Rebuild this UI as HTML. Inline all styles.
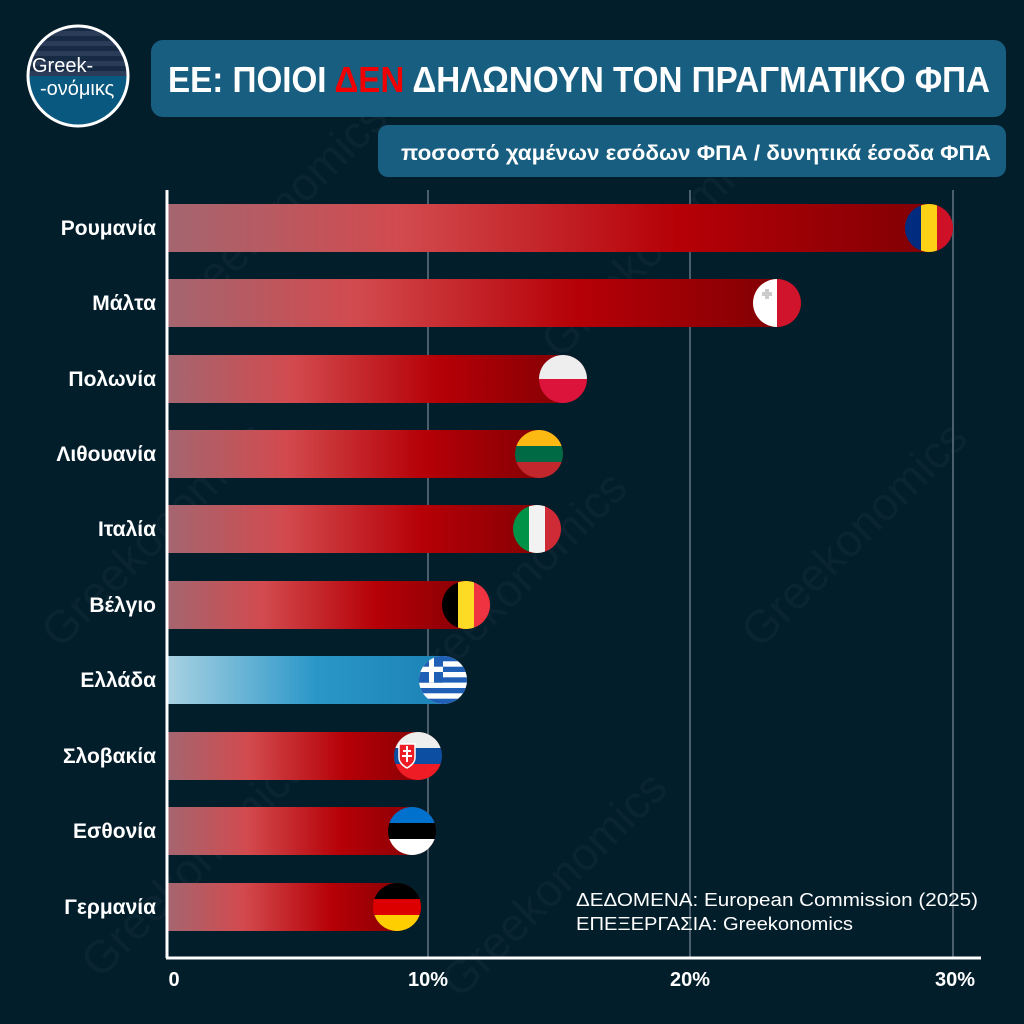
<!DOCTYPE html>
<html><head><meta charset="utf-8"><style>
body{margin:0;background:#031e2b;}
svg{display:block;font-family:"Liberation Sans","DejaVu Sans",sans-serif;}
</style></head><body>
<svg width="1024" height="1024" viewBox="0 0 1024 1024" xmlns="http://www.w3.org/2000/svg">
<defs>
<linearGradient id="rg" x1="0" y1="0" x2="1" y2="0">
<stop offset="0" stop-color="#a46670"/><stop offset="0.3" stop-color="#d24a4e"/><stop offset="0.65" stop-color="#b50006"/><stop offset="1" stop-color="#7c0004"/>
</linearGradient>
<linearGradient id="bg" x1="0" y1="0" x2="1" y2="0">
<stop offset="0" stop-color="#a9d2e2"/><stop offset="0.5" stop-color="#2a96c8"/><stop offset="1" stop-color="#1a7fb2"/>
</linearGradient>
<clipPath id="c"><circle cx="0" cy="0" r="24"/></clipPath>
<clipPath id="lc"><circle cx="78" cy="76" r="50"/></clipPath>
</defs>
<rect width="1024" height="1024" fill="#031e2b"/>
<g font-size="46" fill-opacity="0.03" fill="#fff">
<text x="60" y="650" transform="rotate(-45 60 650)">Greekonomics</text>
<text x="420" y="700" transform="rotate(-45 420 700)">Greekonomics</text>
<text x="760" y="650" transform="rotate(-45 760 650)">Greekonomics</text>
<text x="100" y="980" transform="rotate(-45 100 980)">Greekonomics</text>
<text x="460" y="1000" transform="rotate(-45 460 1000)">Greekonomics</text>
<text x="180" y="330" transform="rotate(-45 180 330)">Greekonomics</text>
<text x="560" y="360" transform="rotate(-45 560 360)">Greekonomics</text>
</g>
<g clip-path="url(#lc)">
<rect x="28" y="26" width="100" height="50" fill="#162a44"/>
<g fill="#2a3c58"><rect x="28" y="31" width="100" height="5"/><rect x="28" y="41" width="100" height="5"/><rect x="28" y="51" width="100" height="5"/><rect x="28" y="61" width="100" height="5"/><rect x="28" y="71" width="100" height="5"/></g>
<rect x="28" y="76" width="100" height="50" fill="#08587f"/>
</g>
<circle cx="78" cy="76" r="50" fill="none" stroke="#fff" stroke-width="3"/>
<text x="32" y="72" font-size="20" fill="#fff">Greek-</text>
<text x="40" y="95" font-size="20" fill="#fff">-ονόμικς</text>
<rect x="151" y="40" width="855" height="77" rx="12" fill="#175e80"/>
<text x="168" y="92" font-size="36" font-weight="bold" fill="#fff" textLength="822" lengthAdjust="spacingAndGlyphs">ΕΕ: ΠΟΙΟΙ <tspan fill="#f00000">ΔΕΝ</tspan> ΔΗΛΩΝΟΥΝ ΤΟΝ ΠΡΑΓΜΑΤΙΚΟ ΦΠΑ</text>
<rect x="378" y="125" width="628" height="52" rx="10" fill="#175e80"/>
<text x="401" y="160" font-size="21" font-weight="bold" fill="#fff" textLength="590" lengthAdjust="spacingAndGlyphs">ποσοστό χαμένων εσόδων ΦΠΑ / δυνητικά έσοδα ΦΠΑ</text>
<g stroke="#4c5f6c" stroke-width="2"><line x1="428" y1="190" x2="428" y2="958"/><line x1="690" y1="190" x2="690" y2="958"/><line x1="953" y1="190" x2="953" y2="958"/></g>
<g fill="url(#rg)">
<path d="M167,204H929A24,24 0 0 1 929,252H167Z"/>
<path d="M167,279H777A24,24 0 0 1 777,327H167Z"/>
<path d="M167,355H563A24,24 0 0 1 563,403H167Z"/>
<path d="M167,430H539A24,24 0 0 1 539,478H167Z"/>
<path d="M167,505H537A24,24 0 0 1 537,553H167Z"/>
<path d="M167,581H466A24,24 0 0 1 466,629H167Z"/>
<path d="M167,656H443A24,24 0 0 1 443,704H167Z" fill="url(#bg)"/>
<path d="M167,732H418A24,24 0 0 1 418,780H167Z"/>
<path d="M167,807H412A24,24 0 0 1 412,855H167Z"/>
<path d="M167,883H397A24,24 0 0 1 397,931H167Z"/>
</g>
<g transform="translate(929,228)" clip-path="url(#c)"><rect x="-24" y="-24" width="16" height="48" fill="#002b7f"/><rect x="-8" y="-24" width="16" height="48" fill="#fcd116"/><rect x="8" y="-24" width="16" height="48" fill="#ce1126"/></g>
<g transform="translate(777,303)" clip-path="url(#c)"><rect x="-24" y="-24" width="24" height="48" fill="#fff"/><rect x="0" y="-24" width="24" height="48" fill="#cf142b"/><path d="M-12,-14h4v3h3v4h-3v3h-4v-3h-3v-4h3z" fill="#ccc"/></g>
<g transform="translate(563,379)" clip-path="url(#c)"><rect x="-24" y="-24" width="48" height="24" fill="#eee"/><rect x="-24" y="0" width="48" height="24" fill="#dc143c"/></g>
<g transform="translate(539,454)" clip-path="url(#c)"><rect x="-24" y="-24" width="48" height="16" fill="#fdb913"/><rect x="-24" y="-8" width="48" height="16" fill="#006a44"/><rect x="-24" y="8" width="48" height="16" fill="#c1272d"/></g>
<g transform="translate(537,529)" clip-path="url(#c)"><rect x="-24" y="-24" width="16" height="48" fill="#009246"/><rect x="-8" y="-24" width="16" height="48" fill="#f1f2f1"/><rect x="8" y="-24" width="16" height="48" fill="#ce2b37"/></g>
<g transform="translate(466,605)" clip-path="url(#c)"><rect x="-24" y="-24" width="16" height="48" fill="#000"/><rect x="-8" y="-24" width="16" height="48" fill="#fdda24"/><rect x="8" y="-24" width="16" height="48" fill="#ef3340"/></g>
<g transform="translate(443,680)" clip-path="url(#c)"><rect x="-24" y="-24" width="48" height="48" fill="#fff"/><g fill="#1f5fb5"><rect x="-24" y="-24" width="48" height="5.3"/><rect x="-24" y="-13.3" width="48" height="5.3"/><rect x="-24" y="-2.7" width="48" height="5.3"/><rect x="-24" y="8" width="48" height="5.3"/><rect x="-24" y="18.7" width="48" height="5.3"/><rect x="-24" y="-24" width="24" height="26.7"/></g><rect x="-14" y="-24" width="5" height="26.7" fill="#fff"/><rect x="-24" y="-13.3" width="24" height="5.3" fill="#fff"/></g>
<g transform="translate(418,756)" clip-path="url(#c)"><rect x="-24" y="-24" width="48" height="16" fill="#eee"/><rect x="-24" y="-8" width="48" height="16" fill="#0b4ea2"/><rect x="-24" y="8" width="48" height="16" fill="#ee1c25"/><path d="M-19,-12h16v14c0,6,-8,10,-8,10c0,0,-8,-4,-8,-10z" fill="#ee1c25" stroke="#fff" stroke-width="1.5"/><path d="M-12,-10h2v4h3v2h-3v3h4v2h-4v5h-2v-5h-4v-2h4v-3h-3v-2h3z" fill="#fff"/></g>
<g transform="translate(412,831)" clip-path="url(#c)"><rect x="-24" y="-24" width="48" height="16" fill="#0072ce"/><rect x="-24" y="-8" width="48" height="16" fill="#000"/><rect x="-24" y="8" width="48" height="16" fill="#fff"/></g>
<g transform="translate(397,907)" clip-path="url(#c)"><rect x="-24" y="-24" width="48" height="16" fill="#000"/><rect x="-24" y="-8" width="48" height="16" fill="#dd0000"/><rect x="-24" y="8" width="48" height="16" fill="#ffce00"/></g>
<line x1="167" y1="190" x2="167" y2="958" stroke="#fff" stroke-width="3"/>
<line x1="166" y1="958" x2="981" y2="958" stroke="#fff" stroke-width="3"/>
<g fill="#fff" font-size="20" font-weight="bold" text-anchor="middle">
<text x="174" y="986">0</text><text x="428" y="986">10%</text><text x="690" y="986">20%</text><text x="955" y="986">30%</text>
</g>
<g fill="#fff" font-size="21" font-weight="bold" text-anchor="end">
<text x="156" y="235">Ρουμανία</text><text x="156" y="310">Μάλτα</text><text x="156" y="386">Πολωνία</text><text x="156" y="461">Λιθουανία</text><text x="156" y="536">Ιταλία</text><text x="156" y="612">Βέλγιο</text><text x="156" y="687">Ελλάδα</text><text x="156" y="763">Σλοβακία</text><text x="156" y="838">Εσθονία</text><text x="156" y="914">Γερμανία</text>
</g>
<g fill="#fff" font-size="18">
<text x="576" y="906" textLength="402" lengthAdjust="spacingAndGlyphs">ΔΕΔΟΜΕΝΑ: European Commission (2025)</text>
<text x="576" y="930" textLength="277" lengthAdjust="spacingAndGlyphs">ΕΠΕΞΕΡΓΑΣΙΑ: Greekonomics</text>
</g>
</svg>
</body></html>
